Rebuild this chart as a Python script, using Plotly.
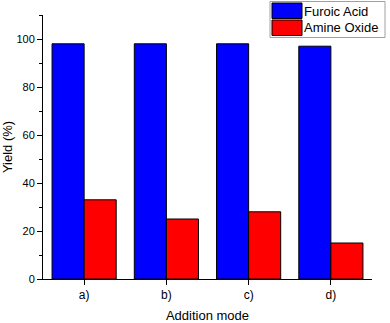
import plotly.graph_objects as go

categories = ["a)", "b)", "c)", "d)"]
series_names = ["Furoic Acid", "Amine Oxide"]
furoic_acid = [98, 98, 98, 97]
amine_oxide = [33, 25, 28, 15]
colors = ["#0000ff", "#ff0000"]

W, H = 390, 323
L, R, T, B = 43, 18, 15, 44
PW, PH = W - L - R, H - T - B

def px_x(x):
    return (x - L) / PW

def px_y(y):
    return (H - B - y) / PH

fig = go.Figure()
for name, vals, col in zip(series_names, [furoic_acid, amine_oxide], colors):
    fig.add_trace(go.Bar(x=categories, y=vals, name=name,
                         marker=dict(color=col, line=dict(color="black", width=1))))

# compact legend, drawn like the original
shapes = [dict(type="rect", xref="paper", yref="paper",
               x0=px_x(270), x1=px_x(385), y0=px_y(37.5), y1=px_y(1.5),
               line=dict(color="#a0a0a0", width=1), fillcolor="white", layer="above")]
annotations = []
for i, (name, col) in enumerate(zip(series_names, colors)):
    top = 3 + i * 17
    shapes.append(dict(type="rect", xref="paper", yref="paper",
                       x0=px_x(272), x1=px_x(302), y0=px_y(top + 15.5), y1=px_y(top),
                       line=dict(color="black", width=1), fillcolor=col, layer="above"))
    annotations.append(dict(text=name, xref="paper", yref="paper",
                            x=px_x(302), y=px_y(top + 8), xanchor="left", yanchor="middle",
                            showarrow=False,
                            font=dict(family="Liberation Sans, Arial, sans-serif", size=13, color="black")))

fig.update_layout(
    width=W, height=H,
    margin=dict(l=L, r=R, t=T, b=B, autoexpand=False),
    barmode="group", bargap=0.22, bargroupgap=0,
    plot_bgcolor="white", paper_bgcolor="white",
    font=dict(family="Liberation Sans, Arial, sans-serif", size=11, color="black"),
    showlegend=False,
    shapes=shapes, annotations=annotations,
    xaxis=dict(
        title=dict(text="Addition mode", font=dict(size=13), standoff=11),
        range=[-0.5, 3.5], showline=True, linecolor="black", linewidth=1,
        ticks="outside", ticklen=5, tickcolor="black", showgrid=False,
        tickfont=dict(size=12),
        minor=dict(ticks="outside", ticklen=3, tickcolor="black", dtick=1, tick0=-0.5),
    ),
    yaxis=dict(
        title=dict(text="Yield (%)", font=dict(size=13), standoff=6),
        range=[0, 110], dtick=20, showline=True, linecolor="black", linewidth=1,
        ticks="outside", ticklen=5, tickcolor="black", showgrid=False, zeroline=False,
        minor=dict(ticks="outside", ticklen=3, tickcolor="black", dtick=10),
    ),
)

fig.write_html("out.html", config={"displayModeBar": False},
               post_script="document.body.style.margin='0';document.body.style.overflow='hidden';")
